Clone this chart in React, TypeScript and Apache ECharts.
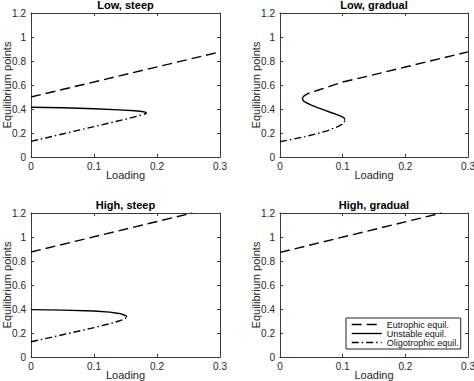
import React, { useEffect, useRef } from "react";
import * as echarts from "echarts";

// ---- data ----
const panelTitles = ["Low, steep", "Low, gradual", "High, steep", "High, gradual"];
const seriesNames = ["Eutrophic equil.", "Unstable equil.", "Oligotrophic equil."];
const xTickValues = [0, 0.1, 0.2, 0.3];
const yTickValues = [0, 0.2, 0.4, 0.6, 0.8, 1, 1.2];

const lowSteepEutrophic = [[0, 0.5], [0.3, 0.876]];
const lowSteepUnstable = [
  [0, 0.415], [0.05, 0.41], [0.1, 0.402], [0.14, 0.393], [0.165, 0.385],
  [0.176, 0.379], [0.181, 0.374], [0.1835, 0.367],
];
const lowSteepOligotrophic = [
  [0, 0.13], [0.05, 0.192], [0.1, 0.253], [0.15, 0.315], [0.172, 0.344],
  [0.18, 0.356], [0.1835, 0.367],
];

const lowGradualEutrophic = [
  [0.0356, 0.481], [0.0365, 0.497], [0.039, 0.512], [0.044, 0.527], [0.05, 0.54],
  [0.06, 0.556], [0.08, 0.59], [0.1, 0.625], [0.15, 0.686], [0.2, 0.75], [0.3, 0.876],
];
const lowGradualUnstable = [
  [0.0356, 0.481], [0.0375, 0.468], [0.042, 0.452], [0.05, 0.433], [0.06, 0.412],
  [0.07, 0.392], [0.08, 0.373], [0.09, 0.355], [0.097, 0.34], [0.102, 0.326], [0.1037, 0.312],
];
const lowGradualOligotrophic = [
  [0, 0.128], [0.02, 0.148], [0.04, 0.17], [0.06, 0.195], [0.075, 0.218], [0.085, 0.238],
  [0.093, 0.255], [0.099, 0.272], [0.1025, 0.29], [0.1037, 0.312],
];

const highSteepEutrophic = [[0, 0.875], [0.256, 1.2]];
const highSteepUnstable = [
  [0, 0.395], [0.05, 0.391], [0.1, 0.383], [0.125, 0.374], [0.14, 0.363],
  [0.147, 0.352], [0.151, 0.342], [0.152, 0.333],
];
const highSteepOligotrophic = [
  [0, 0.127], [0.05, 0.185], [0.1, 0.245], [0.13, 0.284], [0.145, 0.31],
  [0.15, 0.322], [0.152, 0.333],
];

const highGradualEutrophic = [[0, 0.872], [0.258, 1.2]];

const panelSeries = [
  [lowSteepEutrophic, lowSteepUnstable, lowSteepOligotrophic],
  [lowGradualEutrophic, lowGradualUnstable, lowGradualOligotrophic],
  [highSteepEutrophic, highSteepUnstable, highSteepOligotrophic],
  [highGradualEutrophic, null, null],
];

// ---- layout / style ----
const FONT = "'Liberation Sans', Arial, Helvetica, sans-serif";
const AXIS_COLOR = "#3a3a3a";
const TEXT_COLOR = "#262626";
const grids = [
  { left: 31, top: 13, width: 189, height: 144 },
  { left: 280, top: 13, width: 188, height: 144 },
  { left: 31, top: 213, width: 189, height: 144 },
  { left: 280, top: 213, width: 188, height: 144 },
];
const lineTypes: any[] = [[10, 5], "solid", [7, 3, 1.5, 3]];

export default function App() {
  const ref = useRef<HTMLDivElement>(null);

  useEffect(() => {
    if (!ref.current) return;
    const chart = echarts.init(ref.current, null, { renderer: "svg" });

    const xMin = xTickValues[0];
    const xMax = xTickValues[xTickValues.length - 1];
    const xStep = xTickValues[1] - xTickValues[0];
    const yMin = yTickValues[0];
    const yMax = yTickValues[yTickValues.length - 1];
    const yStep = yTickValues[1] - yTickValues[0];

    const xAxes: any[] = [];
    const yAxes: any[] = [];
    const series: any[] = [];
    const graphics: any[] = [];

    const common = (i: number) => ({
      type: "value",
      gridIndex: i,
      axisLine: { show: true, onZero: false, lineStyle: { color: AXIS_COLOR, width: 1 } },
      axisTick: { show: true, inside: true, length: 3, lineStyle: { color: AXIS_COLOR } },
      splitLine: { show: false },
    });

    grids.forEach((g, i) => {
      xAxes.push({
        ...common(i),
        position: "bottom",
        min: xMin,
        max: xMax,
        interval: xStep,
        name: "Loading",
        nameLocation: "middle",
        nameGap: 12,
        nameMoveOverlap: false,
        nameTextStyle: { fontSize: 11, color: TEXT_COLOR, fontFamily: FONT },
        axisLabel: { fontSize: 10, color: TEXT_COLOR, margin: 4, fontFamily: FONT },
      });
      xAxes.push({
        ...common(i),
        position: "top",
        min: xMin,
        max: xMax,
        interval: xStep,
        axisLabel: { show: false },
      });
      yAxes.push({
        ...common(i),
        position: "left",
        min: yMin,
        max: yMax,
        interval: yStep,
        name: "Equilibrium points",
        nameLocation: "middle",
        nameGap: 19,
        nameMoveOverlap: false,
        nameTextStyle: { fontSize: 11, color: TEXT_COLOR, fontFamily: FONT },
        axisLabel: { fontSize: 10, color: TEXT_COLOR, margin: 5, fontFamily: FONT },
      });
      yAxes.push({
        ...common(i),
        position: "right",
        min: yMin,
        max: yMax,
        interval: yStep,
        axisLabel: { show: false },
      });

      panelSeries[i].forEach((data, k) => {
        if (!data) return;
        series.push({
          type: "line",
          name: seriesNames[k],
          xAxisIndex: 2 * i,
          yAxisIndex: 2 * i,
          data,
          symbol: "none",
          showSymbol: false,
          clip: true,
          itemStyle: { color: "#000" },
          lineStyle: { color: "#000", width: 1.4, type: lineTypes[k] },
          emphasis: { disabled: true },
        });
      });

      graphics.push({
        type: "text",
        x: g.left + g.width / 2,
        y: g.top - 8,
        style: {
          text: panelTitles[i],
          align: "center",
          verticalAlign: "middle",
          fontSize: 11,
          fontWeight: "bold",
          fontFamily: FONT,
          fill: "#000",
        },
      });
    });

    chart.setOption({
      animation: false,
      backgroundColor: "#fff",
      grid: grids.map((g) => ({ ...g, containLabel: false, outerBoundsMode: "none" })),
      xAxis: xAxes,
      yAxis: yAxes,
      series,
      graphic: graphics,
      legend: {
        data: seriesNames,
        orient: "vertical",
        left: 346,
        top: 318,
        itemWidth: 30,
        itemHeight: 8,
        itemGap: 0,
        padding: [2, 2, 2, 5],
        borderColor: "#222",
        borderWidth: 1,
        backgroundColor: "#fff",
        selectedMode: false,
        itemStyle: { opacity: 0, borderWidth: 0 },
        lineStyle: { color: "#000", width: 1.4 },
        textStyle: { fontSize: 9, lineHeight: 8, color: "#111", fontFamily: FONT },
      },
    });

    return () => chart.dispose();
  }, []);

  return (
    <div
      ref={ref}
      style={{ position: "fixed", left: 0, top: 0, width: 474, height: 381, background: "#fff" }}
    />
  );
}
